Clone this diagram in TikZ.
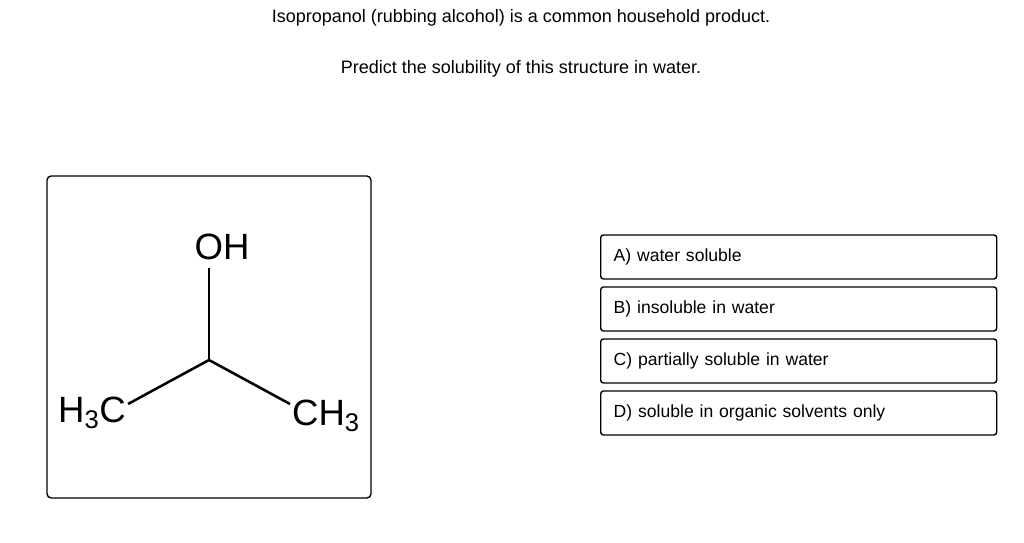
\documentclass[tikz,border=0pt]{standalone}
\usepackage{fontspec}
\setmainfont{Liberation Sans}
\begin{document}
\begin{tikzpicture}[x=0.025cm,y=-0.025cm]
  \tikzstyle{atome}=[font=\fontsize{26}{30}\selectfont]
  \tikzset{choix/.style = {draw,rounded corners=2pt,line width=1pt,minimum width=396*0.025cm,minimum height=44*0.025cm,anchor=west,text width=370*0.025cm,font=\fontsize{12.5}{15}\selectfont}}
  \tikzset{liaison/.style = {line width=1.8pt}}
  \useasboundingbox (0,0) rectangle (1024,543);
  \node[font=\fontsize{12.8}{15}\selectfont] (titre) at (521,18) {Isopropanol (rubbing alcohol) is a common household product.};
  \node[font=\fontsize{12.8}{15}\selectfont] (question) at (521,69) {Predict the solubility of this structure in water.};
  \draw[rounded corners=3pt,line width=1pt] (47,176) rectangle (371,498);
  % molecule
  \node[atome] (oh) at (222,247) {OH};
  \node[atome] (h3c) at (92,413) {H\textsubscript{3}C};
  \node[atome] (ch3) at (326,416) {CH\textsubscript{3}};
  \coordinate (c) at (209,360);
  \coordinate (o) at (209,268);
  \coordinate (g) at (128,404);
  \coordinate (d) at (290,404);
  \draw[liaison] (o) -- (c);
  \draw[liaison] (g) -- (c) -- (d);
  % reponses
  \node[choix] (a) at (600,257) {A) water soluble};
  \node[choix] (b) at (600,309) {B) insoluble in water};
  \node[choix] (cc) at (600,361) {C) partially soluble in water};
  \node[choix] (dd) at (600,413) {D) soluble in organic solvents only};
\end{tikzpicture}
\end{document}
